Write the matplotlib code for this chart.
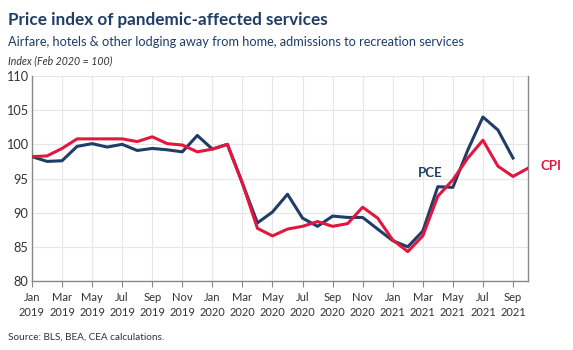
import matplotlib
matplotlib.use("Agg")
import matplotlib.pyplot as plt
import numpy as np

plt.rcParams['font.family'] = ['Lato', 'DejaVu Sans']

months = ["Jan", "Feb", "Mar", "Apr", "May", "Jun", "Jul", "Aug", "Sep", "Oct", "Nov", "Dec"]
dates = [f"{months[i % 12]} {2019 + i // 12}" for i in range(34)]

pce = [98.2, 97.5, 97.6, 99.7, 100.1, 99.6, 100.0, 99.1, 99.4, 99.2, 98.9, 101.3,
       99.3, 100.0, 94.3, 88.5, 90.1, 92.7, 89.2, 88.0, 89.5, 89.3, 89.3, 87.6,
       85.9, 85.0, 87.3, 93.8, 93.7, 99.2, 104.0, 102.1, 98.0]
cpi = [98.2, 98.3, 99.4, 100.8, 100.8, 100.8, 100.8, 100.4, 101.1, 100.1, 99.9, 98.9,
       99.3, 100.0, 94.3, 87.7, 86.6, 87.6, 88.0, 88.7, 88.0, 88.4, 90.8, 89.2,
       86.0, 84.3, 86.6, 92.4, 94.8, 98.0, 100.6, 96.8, 95.3, 96.5]

tick_idx = list(range(0, 33, 2))
tick_labels = [dates[i].replace(" ", "\n") for i in tick_idx]
yticks = [80, 85, 90, 95, 100, 105, 110]

navy = "#1f3d66"
red = "#e3163f"

fig = plt.figure(figsize=(5.73, 3.5), dpi=100)
ax = fig.add_axes([32/573, 1 - 281/350, (528 - 32)/573, (281 - 76)/350])

ax.plot(range(len(pce)), pce, color=navy, lw=2.2, zorder=3)
ax.plot(range(len(cpi)), cpi, color=red, lw=2.2, zorder=4)

ax.set_xlim(0, 33)
ax.set_ylim(80, 110)
ax.set_xticks(tick_idx)
ax.set_xticklabels(tick_labels, fontsize=8.0, color="#333333", linespacing=1.45)
ax.set_yticks(yticks)
ax.set_yticklabels([str(v) for v in yticks], fontsize=9.2, color="#333333")
ax.grid(True, color="#e6e6e6", lw=0.8, zorder=0)
ax.spines["top"].set_visible(False)
for s in ["left", "bottom", "right"]:
    ax.spines[s].set_color("#888888")
    ax.spines[s].set_linewidth(1.0)
ax.tick_params(axis='x', length=4, color="#888888", pad=4)
ax.tick_params(axis='y', length=0, pad=3)

ax.text(27.3, 95.8, "PCE", color=navy, fontsize=9.5, fontweight='bold', ha='right', va='center')
ax.text(33.8, 96.8, "CPI", color=red, fontsize=9.5, fontweight='bold', ha='left', va='center', clip_on=False)

fig.text(8/573, 1 - 20/350, "Price index of pandemic-affected services", fontsize=12.3,
         fontweight='bold', color="#1f3d66", ha='left', va='center')
fig.text(8/573, 1 - 42/350, "Airfare, hotels & other lodging away from home, admissions to recreation services",
         fontsize=9.2, color="#1f3d66", ha='left', va='center')
fig.text(8/573, 1 - 61/350, "Index (Feb 2020 = 100)", fontsize=7.6, style='italic',
         color="#333333", ha='left', va='center')
fig.text(8/573, 1 - 337/350, "Source: BLS, BEA, CEA calculations.", fontsize=7.2,
         color="#333333", ha='left', va='center')

fig.savefig("out.png", dpi=100)
